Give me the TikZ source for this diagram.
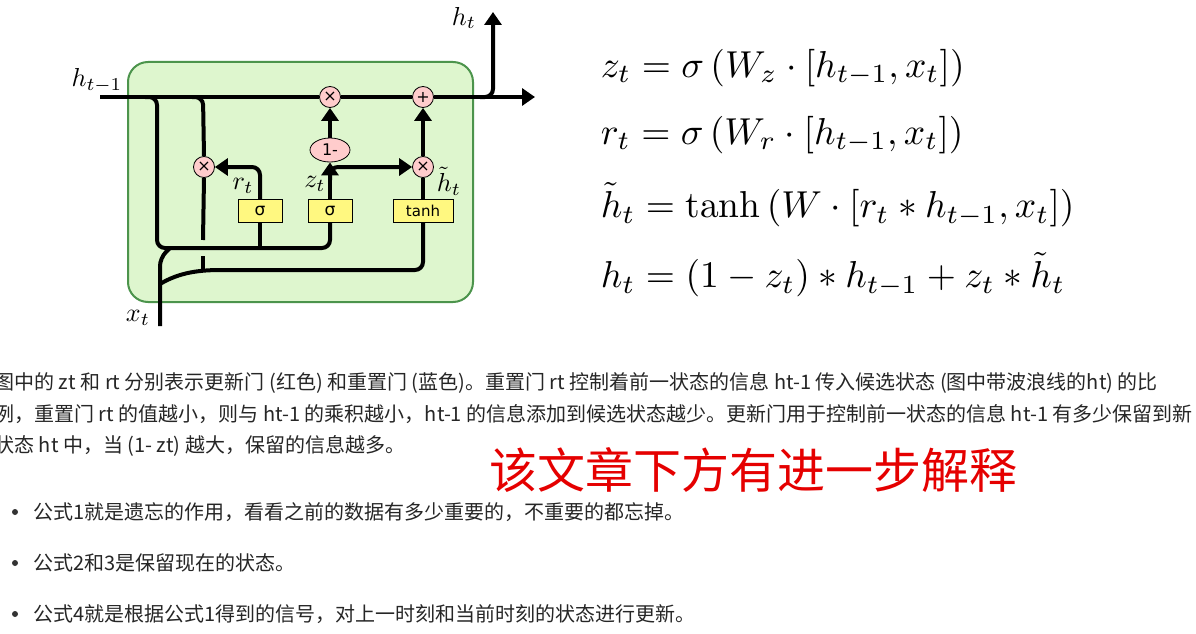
\documentclass[tikz,border=0pt]{standalone}
\usepackage{amsmath}
\usepackage{fontspec}
\newfontfamily\cjk{Noto Sans CJK SC}
\newfontfamily\dv{DejaVu Sans}
\usetikzlibrary{arrows.meta,shapes.geometric}
\begin{document}
\begin{tikzpicture}[x=1pt,y=-1pt,
  wire/.style={line width=4pt,rounded corners=8pt},
  arr/.style={wire,-{Triangle[length=13pt,width=17pt]}},
  op/.style={circle,draw,fill=red!20,line width=0.8pt,minimum size=21pt,inner sep=0pt,font=\dv\fontsize{16}{16}\selectfont},
  gate/.style={draw,fill=yellow!50,line width=0.8pt,minimum height=23pt,inner sep=1pt,font=\dv\fontsize{17}{17}\selectfont},
  lab/.style={scale=2.6,inner sep=0pt},
  eq/.style={anchor=west,scale=3.75,inner sep=0pt},
  txt/.style={anchor=west,font=\cjk\fontsize{20}{22}\selectfont,text=black!85}]
\useasboundingbox (0,0) rectangle (1196,634);
\clip (0,0) rectangle (1196,634);
\fill[white] (0,0) rectangle (1196,634);
\node[draw=green!40!black!70,line width=2pt,fill={rgb,255:red,222;green,246;blue,206},rounded corners=20pt,minimum width=345pt,minimum height=240pt] (cell) at (300.5,182) {};
\coordinate (hin) at (100,97);
\coordinate (hout) at (535,97);
\coordinate (htop) at (493,12);
\coordinate (xin) at (160,326);
\node[op] (m1) at (330,97) {×};
\node[op] (p1) at (423,97) {+};
\node[op] (m2) at (204,167) {×};
\node[op] (m3) at (423,167) {×};
\node[ellipse,draw,fill=red!20,line width=0.8pt,minimum width=40pt,minimum height=24pt,inner sep=0pt,font=\dv\fontsize{16}{16}\selectfont] (one) at (330,150) {1-};
\node[gate,minimum width=44pt] (s1) at (260,211) {σ};
\node[gate,minimum width=44pt] (s2) at (330,211) {σ};
\node[gate,minimum width=60pt,font=\dv\fontsize{15}{15}\selectfont] (th) at (423,211) {tanh};
% main line
\draw[arr] (hin) -- (m1) -- (p1) -- (hout);
\draw[arr] (480,97) -- (493,97) -- (htop);
% h branches
\draw[wire] (145,97) -- (157,97) -- (157,248) -- (330,248) -- (s2.south);
\draw[wire] (192,97) -- (203,97) -- (m2.north);
\draw[wire] (m2.south) -- (203,240);
\draw[wire,rounded corners=0pt] (203,256) -- (203,270);
% x input
\draw[wire] (xin) -- (160,258) -- (170,248);
\draw[wire] (160,284) .. controls (180,272) and (200,270) .. (230,270) -- (423,270) -- (th.south);
\draw[wire,rounded corners=0pt] (260,248) -- (s1.south);
% gates
\draw[arr] (s1.north) -- (260,167) -- (m2.east);
\draw[arr] (s2.north) -- (one.south);
\draw[arr] (one.north) -- (m1.south);
\draw[arr] (330,180) -- (330,167) -- (m3.west);
\draw[wire] (th.north) -- (m3.south);
\draw[arr] (m3.north) -- (p1.south);
% labels
\node[lab] (lh1) at (97,81) {$h_{t-1}$};
\node[lab] (lht) at (464,18) {$h_t$};
\node[lab] (lxt) at (138,318) {$x_t$};
\node[lab] (lrt) at (243,186) {$r_t$};
\node[lab] (lzt) at (315,184) {$z_t$};
\node[lab] (lhh) at (449,181) {$\tilde{h}_t$};
% equations
\node[eq] (e1) at (600,68) {$z_t=\sigma\left(W_z\cdot[h_{t-1},x_t]\right)$};
\node[eq] (e2) at (600,135) {$r_t=\sigma\left(W_r\cdot[h_{t-1},x_t]\right)$};
\node[eq] (e3) at (600,205) {$\tilde{h}_t=\tanh\left(W\cdot[r_t*h_{t-1},x_t]\right)$};
\node[eq] (e4) at (600,275) {$h_t=(1-z_t)*h_{t-1}+z_t*\tilde{h}_t$};
% text
\node[txt] (t1) at (-9,383) {图中的 zt 和 rt 分别表示更新门 (红色) 和重置门 (蓝色)。重置门 rt 控制着前一状态的信息 ht-1 传入候选状态 (图中带波浪线的ht) 的比};
\node[txt] (t2) at (-9,414) {例，重置门 rt 的值越小，则与 ht-1 的乘积越小，ht-1 的信息添加到候选状态越少。更新门用于控制前一状态的信息 ht-1 有多少保留到新};
\node[txt] (t3) at (-9,446) {状态 ht 中，当 (1- zt) 越大，保留的信息越多。};
\node[anchor=west,font=\cjk\fontsize{48}{52}\selectfont,text=red!90!black] (red) at (486,470) {该文章下方有进一步解释};
\foreach \y/\s [count=\i] in {512/公式1就是遗忘的作用，看看之前的数据有多少重要的，不重要的都忘掉。,563/公式2和3是保留现在的状态。,614/公式4就是根据公式1得到的信号，对上一时刻和当前时刻的状态进行更新。}{
  \fill[black!80] (15,\y) circle (3pt);
  \node[txt] (b\i) at (30,\y) {\s};
}
\end{tikzpicture}
\end{document}
